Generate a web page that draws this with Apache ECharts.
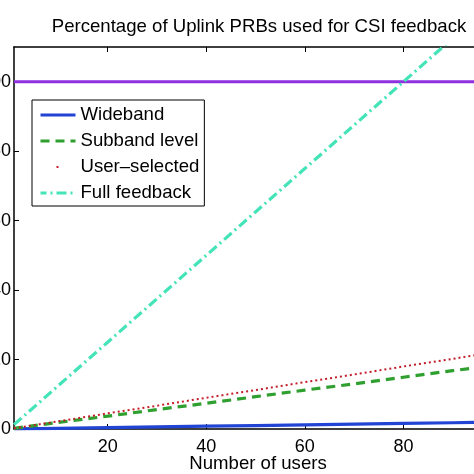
<!DOCTYPE html>
<html><head><meta charset="utf-8">
<script src="https://cdn.jsdelivr.net/npm/echarts@6/dist/echarts.min.js"></script>
<style>html,body{margin:0;padding:0;background:#fff}#c{width:474px;height:474px}</style>
</head><body><div id="c"></div>
<script>
const users = [1, 10, 20, 30, 40, 50, 60, 70, 80, 90, 100];
const wideband = [0.02, 0.2, 0.4, 0.6, 0.8, 1.0, 1.2, 1.4, 1.6, 1.8, 2.0];
const subband = [0.19, 1.9, 3.7, 5.6, 7.4, 9.3, 11.2, 13.0, 14.9, 16.8, 18.6];
const userSelected = [0.22, 2.2, 4.5, 6.7, 9.0, 11.2, 13.5, 15.7, 18.0, 20.2, 22.5];
const fullFeedback = [1.25, 12.5, 25, 37.5, 50, 62.5, 75, 87.5, 100, 112.5, 125];
const total = [100, 100, 100, 100, 100, 100, 100, 100, 100, 100, 100];
const xTicks = [20, 40, 60, 80, 100];
const yTicks = [0, 20, 40, 60, 80, 100];
const pair = (ys) => users.map((u, i) => [u, ys[i]]);

const font = 'Liberation Sans, Arial, Helvetica, sans-serif';
const chart = echarts.init(document.getElementById('c'), null, {renderer: 'canvas'});
const axisCommon = {
  axisLine: {show: true, lineStyle: {color: '#000', width: 1.5}},
  splitLine: {show: false}
};
const hideSym = {opacity: 0};
chart.setOption({
  animation: false,
  backgroundColor: '#fff',
  title: {
    text: 'Percentage of Uplink PRBs used for CSI feedback',
    left: 254, top: 12, textAlign: 'center',
    textStyle: {fontFamily: font, fontSize: 18.6, fontWeight: 'normal', color: '#000'}
  },
  grid: {left: 14, width: 488, top: 47, bottom: 45, containLabel: false, outerBoundsMode: 'none'},
  legend: {
    orient: 'vertical', left: 32, top: 100,
    padding: [5, 5, 3, 7],
    backgroundColor: '#fff', borderColor: '#000', borderWidth: 1,
    itemWidth: 35, itemHeight: 14, itemGap: 6,
    textStyle: {fontFamily: font, fontSize: 18.6, color: '#000', lineHeight: 20, padding: [0, 0, 0, 0]},
    data: [
      {name: 'Wideband', itemStyle: hideSym, lineStyle: {width: 3}},
      {name: 'Subband level', itemStyle: hideSym, lineStyle: {width: 3}},
      {name: 'User\u2013selected', itemStyle: hideSym, lineStyle: {type: [2, 60], dashOffset: -16, width: 2}},
      {name: 'Full feedback', itemStyle: hideSym, lineStyle: {width: 3}}
    ]
  },
  xAxis: [
    Object.assign({
      type: 'value', min: 1, max: 100, position: 'bottom',
      name: 'Number of users', nameLocation: 'middle', nameGap: 25, nameMoveOverlap: false,
      nameTextStyle: {fontFamily: font, fontSize: 18.6, color: '#000', verticalAlign: 'top'},
      axisTick: {show: true, inside: true, length: 5, customValues: xTicks, lineStyle: {color: '#000'}},
      axisLabel: {customValues: xTicks, margin: 9, fontFamily: font, fontSize: 18, color: '#000'}
    }, axisCommon),
    Object.assign({
      type: 'value', min: 1, max: 100, position: 'top',
      axisTick: {show: true, inside: true, length: 5, customValues: xTicks, lineStyle: {color: '#000'}},
      axisLabel: {show: false}
    }, axisCommon)
  ],
  yAxis: [
    Object.assign({
      type: 'value', min: 0, max: 110,
      axisTick: {show: true, inside: true, length: 5, customValues: yTicks, lineStyle: {color: '#000'}},
      axisLabel: {customValues: yTicks, margin: 3, fontFamily: font, fontSize: 18, color: '#000'}
    }, axisCommon)
  ],
  series: [
    {name: 'Total', type: 'line', data: pair(total), symbol: 'none',
     lineStyle: {color: '#8f2fe0', width: 3}, itemStyle: {color: '#8f2fe0'}, z: 2},
    {name: 'Wideband', type: 'line', data: pair(wideband), symbol: 'none',
     lineStyle: {color: '#2244d4', width: 3.2}, itemStyle: {color: '#2244d4'}, z: 3},
    {name: 'Subband level', type: 'line', data: pair(subband), symbol: 'none',
     lineStyle: {color: '#2f9f2f', width: 3.2, type: [9, 6]}, itemStyle: {color: '#2f9f2f'}, z: 3},
    {name: 'User\u2013selected', type: 'line', data: pair(userSelected), symbol: 'none',
     lineStyle: {color: '#c41e2a', width: 2, type: [2, 3]}, itemStyle: {color: '#c41e2a'}, z: 3},
    {name: 'Full feedback', type: 'line', data: pair(fullFeedback), symbol: 'none',
     lineStyle: {color: '#44e3b8', width: 3.2, type: [10, 4, 2, 4]}, itemStyle: {color: '#44e3b8'}, z: 3}
  ]
});
</script></body></html>
